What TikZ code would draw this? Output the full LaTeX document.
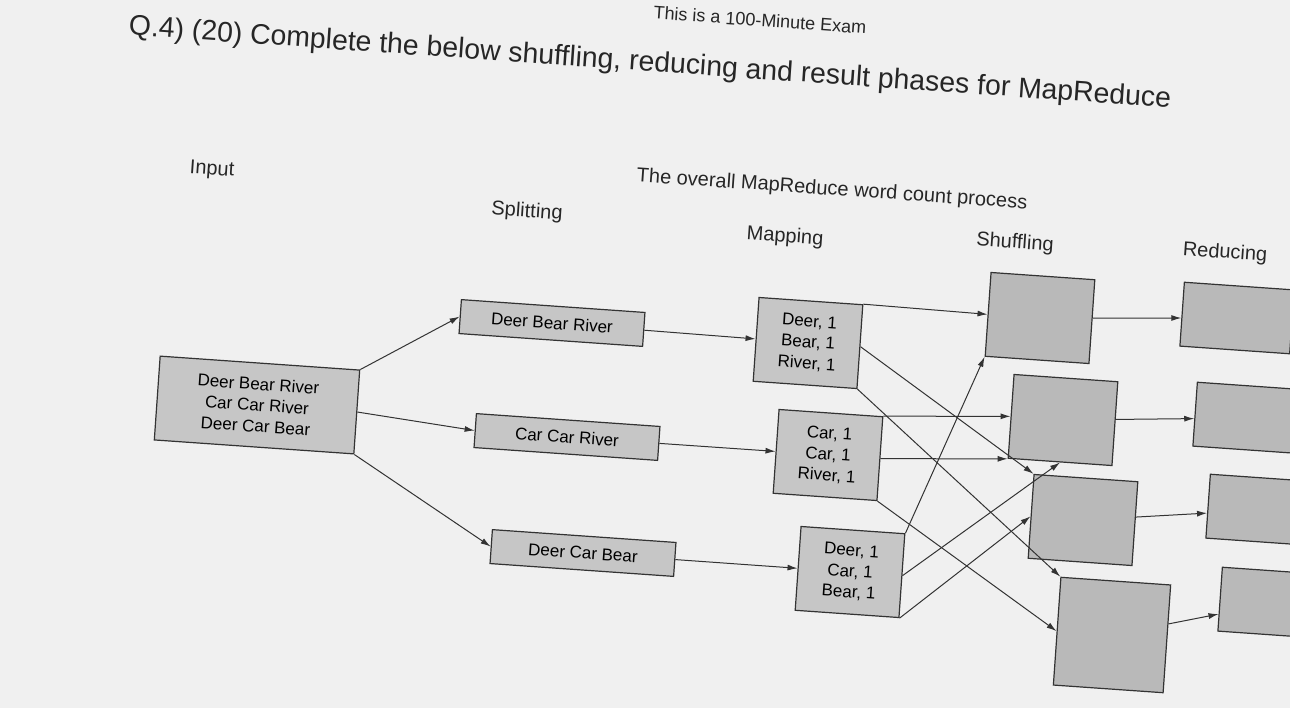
\documentclass[tikz,border=0pt]{standalone}
\usepackage{fontspec}
\setmainfont{Liberation Sans}
\usetikzlibrary{arrows.meta}
\begin{document}
\begin{tikzpicture}[x=0.5pt,y=-0.5pt,
  lbl/.style={font=\fontsize{10}{12}\selectfont,rotate=-4,text=black!85},
  box/.style={draw=black!80,fill=gray!45,rotate=-4,font=\fontsize{8.5}{10.5}\selectfont,align=center,inner sep=3pt,line width=0.6pt},
  sq/.style={draw=black!80,fill=gray!55,rotate=-4,line width=0.6pt},
  arr/.style={-{Latex[length=5pt,width=3pt]},black!80,line width=0.5pt}]
\fill[gray!12] (0,0) rectangle (1290,708);
\useasboundingbox (0,0) rectangle (1290,708);
\node[lbl,font=\fontsize{9}{10}\selectfont] (exam) at (760,20) {This is a 100-Minute Exam};
\node[lbl,font=\fontsize{14.2}{16}\selectfont] (title) at (650,64) {Q.4) (20) Complete the below shuffling, reducing and result phases for MapReduce};
\node[lbl] (tin) at (212,170) {Input};
\node[lbl] (tsp) at (527,212) {Splitting};
\node[lbl] (tov) at (832,190) {The overall MapReduce word count process};
\node[lbl] (tmp) at (785,237) {Mapping};
\node[lbl] (tsh) at (1015,243) {Shuffling};
\node[lbl] (tre) at (1225,253) {Reducing};

\node[box,minimum width=100pt,minimum height=42pt] (in) at (257,405) {Deer Bear River\\Car Car River\\Deer Car Bear};
\node[box,minimum width=92pt,minimum height=17pt] (s1) at (552,323) {Deer Bear River};
\node[box,minimum width=92pt,minimum height=17pt] (s2) at (567,437) {Car Car River};
\node[box,minimum width=92pt,minimum height=17pt] (s3) at (583,553) {Deer Car Bear};
\node[box,minimum width=52pt,minimum height=42pt] (m1) at (808,343) {Deer, 1\\Bear, 1\\River, 1};
\node[box,minimum width=52pt,minimum height=42pt] (m2) at (828,455) {Car, 1\\Car, 1\\River, 1};
\node[box,minimum width=52pt,minimum height=42pt] (m3) at (850,572) {Deer, 1\\Car, 1\\Bear, 1};
\node[sq,minimum width=52pt,minimum height=42pt] (h1) at (1040,318) {};
\node[sq,minimum width=52pt,minimum height=42pt] (h2) at (1063,420) {};
\node[sq,minimum width=52pt,minimum height=42pt] (h3) at (1083,520) {};
\node[sq,minimum width=55pt,minimum height=54pt] (h4) at (1112,635) {};
\node[sq,minimum width=55pt,minimum height=32pt] (r1) at (1237,318) {};
\node[sq,minimum width=55pt,minimum height=32pt] (r2) at (1250,418) {};
\node[sq,minimum width=55pt,minimum height=32pt] (r3) at (1263,510) {};
\node[sq,minimum width=55pt,minimum height=32pt] (r4) at (1275,603) {};

\draw[arr] (in.north east) -- (s1.west);
\draw[arr] (in.east) -- (s2.west);
\draw[arr] (in.south east) -- (s3.west);
\draw[arr] (s1) -- (m1);
\draw[arr] (s2) -- (m2);
\draw[arr] (s3) -- (m3);
\draw[arr] (m1.north east) -- (h1.west);
\draw[arr] (m1.east) -- (h3.north west);
\draw[arr] (m1.south east) -- (h4.north west);
\draw[arr] (m2.north east) -- (h2.west);
\draw[arr] (m2.east) -- (h2.south west);
\draw[arr] (m2.south east) -- (h4.west);
\draw[arr] (m3.north east) -- (h1.south west);
\draw[arr] (m3.east) -- (h2.south);
\draw[arr] (m3.south east) -- (h3.west);
\draw[arr] (h1) -- (r1);
\draw[arr] (h2) -- (r2);
\draw[arr] (h3) -- (r3);
\draw[arr] (h4) -- (r4);
\end{tikzpicture}
\end{document}
